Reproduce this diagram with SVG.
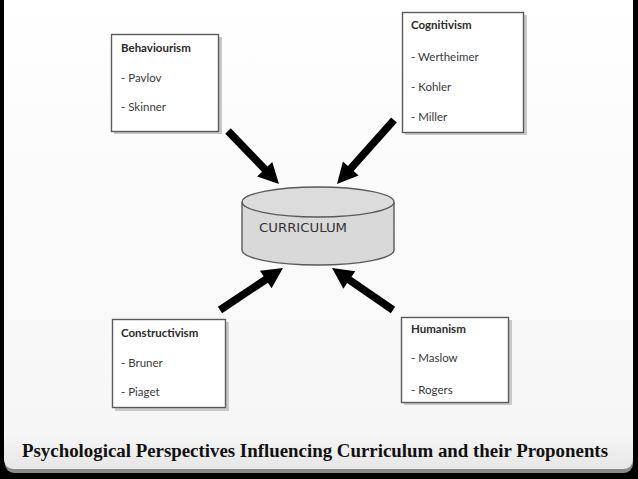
<svg xmlns="http://www.w3.org/2000/svg" width="638" height="479" viewBox="0 0 638 479">
<defs>
<style>
.box{fill:#fff;stroke:#5a5a5a;stroke-width:1.4}
.shadow{fill:#c8c8c8}
.t{font-family:Lato,"Open Sans","Liberation Sans",sans-serif;font-size:11.5px;fill:#3a3a3a}
.h{font-weight:bold;fill:#2a2a2a}
.arrow{fill:#000}
.cap{font-family:"Liberation Serif","DejaVu Serif",serif;font-weight:bold;font-size:18.5px;fill:#111}
</style>
<linearGradient id="base" x1="0" y1="0" x2="0" y2="1">
<stop offset="0" stop-color="#ffffff"/>
<stop offset="0.93" stop-color="#f6f6f6"/>
<stop offset="1" stop-color="#e6e6e6"/>
</linearGradient>
</defs>
<rect x="0" y="0" width="638" height="479" fill="#000"/>
<rect x="5" y="-10" width="628" height="483" rx="9" fill="#8a8a8a"/>
<rect x="4" y="-10" width="629" height="479" rx="9" fill="url(#base)"/>

<g id="connectors">
<path class="arrow" d="M0,-3.8 L53,-3.8 L53,-10.5 L73.5,0 L53,10.5 L53,3.8 L0,3.8 Z" transform="translate(228,131) rotate(46.1)"/>
<path class="arrow" d="M0,-3.8 L65,-3.8 L65,-10.5 L85.7,0 L65,10.5 L65,3.8 L0,3.8 Z" transform="translate(394,120) rotate(131.7)"/>
<path class="arrow" d="M0,-3.8 L55,-3.8 L55,-10.5 L75.7,0 L55,10.5 L55,3.8 L0,3.8 Z" transform="translate(220,310) rotate(-33.7)"/>
<path class="arrow" d="M0,-3.8 L53,-3.8 L53,-10.5 L74,0 L53,10.5 L53,3.8 L0,3.8 Z" transform="translate(393,310) rotate(-145.5)"/>
</g>

<g id="curriculum">
<path d="M242,202 L242,250 A76,15 0 0 0 394,250 L394,202" fill="#d9d9d9" stroke="#5a5a5a" stroke-width="1.4"/>
<ellipse cx="318" cy="202" rx="76" ry="15" fill="#dcdcdc" stroke="#5a5a5a" stroke-width="1.4"/>
<text x="259" y="232" font-family="'Comic Sans MS','DejaVu Sans',sans-serif" font-size="12" fill="#333" textLength="88" lengthAdjust="spacingAndGlyphs">CURRICULUM</text>
</g>

<g id="behaviourism">
<rect class="shadow" x="114" y="37" width="108" height="97"/>
<rect class="box" x="111.5" y="34.5" width="107" height="97"/>
<text class="t h" x="121" y="52">Behaviourism</text>
<text class="t" x="121" y="82">- Pavlov</text>
<text class="t" x="121" y="111">- Skinner</text>
</g>

<g id="cognitivism">
<rect class="shadow" x="405" y="15" width="122" height="120"/>
<rect class="box" x="402.5" y="12.5" width="121" height="120"/>
<text class="t h" x="411" y="29">Cognitivism</text>
<text class="t" x="411" y="61">- Wertheimer</text>
<text class="t" x="411" y="91">- Kohler</text>
<text class="t" x="411" y="121">- Miller</text>
</g>

<g id="constructivism">
<rect class="shadow" x="115" y="322" width="114" height="89"/>
<rect class="box" x="112.5" y="319.5" width="113" height="88"/>
<text class="t h" x="121" y="337">Constructivism</text>
<text class="t" x="121" y="367">- Bruner</text>
<text class="t" x="121" y="396">- Piaget</text>
</g>

<g id="humanism">
<rect class="shadow" x="404" y="320" width="108" height="85"/>
<rect class="box" x="401.5" y="317.5" width="107" height="85"/>
<text class="t h" x="411" y="333">Humanism</text>
<text class="t" x="411" y="362">- Maslow</text>
<text class="t" x="411" y="394">- Rogers</text>
</g>

<text class="cap" x="22" y="457" textLength="586" lengthAdjust="spacingAndGlyphs">Psychological Perspectives Influencing Curriculum and their Proponents</text>
</svg>
